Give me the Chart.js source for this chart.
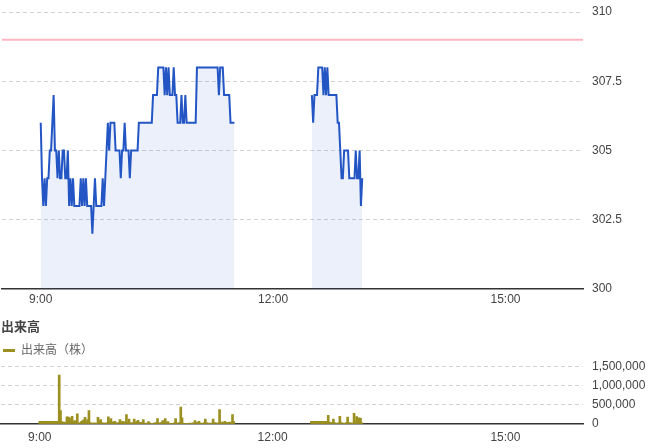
<!DOCTYPE html>
<html>
<head>
<meta charset="utf-8">
<script src="https://cdn.jsdelivr.net/npm/chart.js@4.4.0/dist/chart.umd.min.js"></script>
<style>
    html, body { margin: 0; padding: 0; background: #fff; }
    body { width: 653px; height: 448px; position: relative; overflow: hidden; }
    canvas { position: absolute; left: 0; }
    #priceChart { top: 0; }
    #volumeChart { top: 316px; }
</style>
</head>
<body>
<canvas id="priceChart" width="653" height="310"></canvas>
<canvas id="volumeChart" width="653" height="132"></canvas>
<script>
// ==================== Data ====================
const morningStart = 540;    // 9:00 (minutes since midnight)
const afternoonStart = 750;  // 12:30
const prevClose = 309;

const timeTickValues = [540, 720, 900];
const timeTickLabels = ['9:00', '12:00', '15:00'];
const priceTicks = [300, 302.5, 305, 307.5, 310];
const volumeTicks = [0, 500000, 1000000, 1500000];

// one value per minute, 9:00 - 11:30
const morningPrice = [
    306, 304, 303, 304, 303, 304, 304, 305, 305, 306,
    307, 305, 305, 304, 305, 304, 304, 305, 305, 304,
    304, 305, 303, 304, 303, 304, 303, 303, 303, 303,
    303, 304, 303, 304, 303, 304, 303, 303, 303, 303,
    302, 303, 304, 303, 303, 303, 303, 303, 304, 303,
    304, 305, 306, 305, 306, 306, 306, 306, 305, 305,
    305, 305, 304, 305, 305, 306, 305, 305, 305, 304,
    305, 305, 305, 305, 305, 305, 306, 306, 306, 306,
    306, 306, 306, 306, 306, 306, 306, 307, 307, 307,
    307, 308, 308, 308, 308, 308, 307, 308, 307, 308,
    307, 307, 307, 308, 307, 307, 306, 306, 306, 307,
    306, 306, 307, 306, 306, 306, 306, 306, 306, 306,
    306, 308, 308, 308, 308, 308, 308, 308, 308, 308,
    308, 308, 308, 308, 308, 308, 308, 308, 307, 308,
    308, 308, 307, 307, 307, 307, 307, 306, 306, 306,
    306
];

// one value per minute, 12:30 - 13:09
const afternoonPrice = [
    307, 306, 307, 307, 307, 308, 308, 308, 308, 307,
    308, 307, 308, 307, 307, 307, 307, 307, 307, 307,
    306, 306, 305, 304, 304, 305, 305, 305, 305, 304,
    304, 304, 304, 304, 305, 304, 304, 305, 303, 304
];

const morningVolume = [
    70000, 70000, 70000, 70000, 70000, 70000, 70000, 70000, 70000, 70000,
    70000, 70000, 70000, 70000, 70000, 1280000, 350000, 60000, 45000, 50000,
    40000, 185000, 180000, 160000, 90000, 200000, 60000, 90000, 40000, 265000,
    30000, 25000, 60000, 85000, 110000, 175000, 70000, 115000, 350000, 40000,
    25000, 20000, 30000, 25000, 20000, 175000, 60000, 115000, 25000, 30000,
    20000, 25000, 30000, 185000, 60000, 140000, 40000, 55000, 70000, 30000,
    25000, 40000, 115000, 30000, 70000, 30000, 55000, 245000, 40000, 130000,
    30000, 25000, 40000, 130000, 30000, 70000, 95000, 30000, 45000, 30000,
    115000, 25000, 20000, 25000, 60000, 30000, 20000, 15000, 20000, 30000,
    40000, 140000, 30000, 25000, 40000, 90000, 30000, 140000, 40000, 60000,
    25000, 20000, 15000, 20000, 30000, 140000, 30000, 15000, 40000, 440000,
    160000, 20000, 15000, 20000, 15000, 20000, 25000, 20000, 25000, 30000,
    90000, 30000, 40000, 70000, 30000, 15000, 20000, 40000, 130000, 30000,
    25000, 20000, 25000, 20000, 130000, 40000, 30000, 15000, 30000, 380000,
    40000, 50000, 30000, 70000, 30000, 45000, 40000, 50000, 30000, 245000,
    60000
];

const afternoonVolume = [
    70000, 70000, 70000, 70000, 70000, 70000, 70000, 70000, 70000, 70000,
    70000, 70000, 70000, 228000, 50000, 30000, 40000, 130000, 30000, 25000,
    20000, 30000, 200000, 40000, 25000, 20000, 25000, 30000, 184000, 40000,
    25000, 30000, 20000, 280000, 60000, 193000, 50000, 158000, 150000, 30000
];

// ==================== Style ====================
const FONT = '"Liberation Sans", Arial, "Noto Sans CJK JP", sans-serif';
const TEXT = '#444';
const GRID = '#d2d2d2';
const LINE = '#2356c4';
const FILL = 'rgba(35, 86, 196, 0.09)';
const PREV = '#ffb6c0';
const OLIVE = '#9b9021';

function toPoints(start, values) {
    return values.map((v, i) => ({ x: start + i, y: v }));
}

function timeAxis(labelPad, axisHeight) {
    return {
        type: 'linear',
        min: 510,
        max: 960,
        offset: false,
        grid: { display: false, drawTicks: false, offset: false },
        border: { display: true, color: '#333', width: 1.5 },
        ticks: {
            color: TEXT,
            font: { family: FONT, size: 12 },
            padding: labelPad,
            maxRotation: 0,
            callback: v => timeTickLabels[timeTickValues.indexOf(v)]
        },
        afterBuildTicks: axis => { axis.ticks = timeTickValues.map(v => ({ value: v })); },
        afterFit: axis => { axis.height = axisHeight; }
    };
}

function valueAxis(min, max, tickValues, fmt) {
    return {
        position: 'right',
        min,
        max,
        grid: {
            drawTicks: false,
            color: c => (c.tick && c.tick.value === min) ? 'rgba(0,0,0,0)' : GRID
        },
        border: { display: false, dash: [4, 3] },
        ticks: {
            color: TEXT,
            font: { family: FONT, size: 12 },
            padding: 9,
            callback: fmt
        },
        afterBuildTicks: axis => { axis.ticks = tickValues.map(v => ({ value: v })); },
        afterFit: axis => {
            axis.width = 70;
            axis.paddingTop = 0;
            axis.paddingBottom = 0;
        }
    };
}

// ==================== Price chart ====================
new Chart(document.getElementById('priceChart'), {
    type: 'line',
    data: {
        datasets: [
            {
                data: toPoints(morningStart, morningPrice),
                borderColor: LINE, borderWidth: 2,
                backgroundColor: FILL, fill: 'start',
                pointRadius: 0, tension: 0
            },
            {
                data: toPoints(afternoonStart, afternoonPrice),
                borderColor: LINE, borderWidth: 2,
                backgroundColor: FILL, fill: 'start',
                pointRadius: 0, tension: 0
            },
            {
                data: [{ x: 510, y: prevClose }, { x: 960, y: prevClose }],
                borderColor: PREV, borderWidth: 2,
                pointRadius: 0, fill: false
            }
        ]
    },
    options: {
        responsive: false,
        animation: false,
        events: [],
        layout: { padding: { top: 12, left: 2, right: 0, bottom: 0 } },
        plugins: { legend: { display: false }, tooltip: { enabled: false } },
        scales: {
            x: timeAxis(3, 21),
            y: valueAxis(300, 310, priceTicks, v => String(v))
        }
    }
});

// ==================== Volume chart ====================
new Chart(document.getElementById('volumeChart'), {
    type: 'bar',
    data: {
        datasets: [{
            label: '出来高（株）',
            data: [...toPoints(morningStart, morningVolume), ...toPoints(afternoonStart, afternoonVolume)],
            backgroundColor: OLIVE,
            borderWidth: 0,
            barThickness: 2
        }]
    },
    options: {
        responsive: false,
        animation: false,
        events: [],
        layout: { padding: { top: 0, left: 1, right: 0, bottom: 0 } },
        plugins: {
            title: {
                display: true,
                text: '出来高',
                align: 'start',
                color: TEXT,
                font: { family: FONT, size: 13, weight: 'bold' },
                padding: { top: 4, bottom: 7 }
            },
            legend: {
                display: true,
                align: 'start',
                labels: {
                    boxWidth: 12,
                    boxHeight: 3,
                    padding: 2,
                    color: '#666',
                    font: { family: FONT, size: 12 }
                }
            },
            tooltip: { enabled: false }
        },
        scales: {
            x: timeAxis(6, 24),
            y: valueAxis(0, 1500000, volumeTicks, v => v.toLocaleString('en-US'))
        }
    }
});
</script>
</body>
</html>
